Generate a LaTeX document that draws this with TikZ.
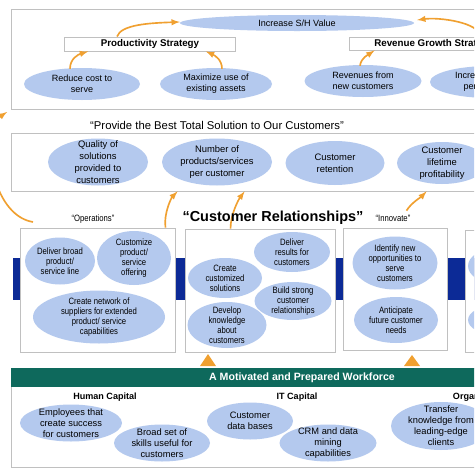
\documentclass[tikz,border=0pt]{standalone}
\usepackage{fontspec}
\setmainfont{Liberation Sans}
\newfontfamily\narrowfont[FakeStretch=0.84]{Liberation Sans}
\usetikzlibrary{shapes}
\usetikzlibrary{arrows}
\usetikzlibrary{calc}

\definecolor{ellblue}{RGB}{180,201,238}
\definecolor{arrorange}{RGB}{240,160,48}
\definecolor{bandblue}{RGB}{12,42,150}
\definecolor{bandteal}{RGB}{14,105,92}
\definecolor{framegray}{RGB}{192,192,192}

\newcommand\fttop{\fontsize{7.7}{9.4}\selectfont}
\newcommand\ftmid{\fontsize{8}{10}\selectfont}
\newcommand\ftnarrow{\narrowfont\fontsize{7.8}{8.6}\selectfont}
\newcommand\ftbot{\fontsize{7.9}{9.4}\selectfont}

\begin{document}
\begin{tikzpicture}[x=0.85pt,y=-0.85pt]
	\tikzstyle{goal}=[ellipse,fill=ellblue,inner sep=-15pt,align=center]
	\tikzstyle{frame}=[rectangle,draw=framegray,line width=0.8pt,fill=white,inner sep=0pt]
	\tikzstyle{stratbox}=[frame,font=\bfseries\fontsize{8.3}{9}\selectfont]
	\tikzstyle{arr}=[draw=arrorange,line width=1.4pt,-latex]
	\tikzstyle{capitallbl}=[font=\bfseries\fontsize{7.7}{9}\selectfont]
	\tikzset{sz/.style 2 args={minimum width=#1*0.85pt,minimum height=#2*0.85pt}}

	\useasboundingbox (0,0) rectangle (474,474);
	\clip (0,0) rectangle (474,474);
	\fill[white] (0,0) rectangle (474,474);

	% strategy level
	\node[frame,sz={479}{100}] (topbox) at (250.5,59) {};
	\node[goal,sz={234}{16},font=\fttop] (shv) at (297,23) {Increase S/H Value};
	\node[stratbox,sz={171}{14}] (prod) at (150,44) {Productivity Strategy};
	\node[stratbox,sz={170}{13}] (rev) at (434,43.5) {Revenue Growth Strategy};
	\node[goal,sz={116}{32},font=\fttop] (cost) at (82,84) {Reduce cost to\\serve};
	\node[goal,sz={112}{32},font=\fttop] (assets) at (216,84) {Maximize use of\\existing assets};
	\node[goal,sz={117}{32},font=\fttop] (newcust) at (363,81) {Revenues from\\new customers};
	\node[goal,sz={120}{32},font=\fttop] (increv) at (490,82) {Increase revenue\\per customer};

	\draw[arr] ($(cost.north)+(-12,1)$) .. controls +(0,-10) and +(-10,3) .. ($(prod.south west)+(24,0)$);
	\draw[arr] ($(assets.north)+(6,1)$) .. controls +(0,-9) and +(9,4) .. ($(prod.south east)+(-30,0)$);
	\draw[arr] ($(prod.north west)+(53,0)$) .. controls +(4,-12) and +(-30,1) .. ($(shv.west)+(0,-1)$);
	\draw[arr] ($(newcust.north)+(-3,1)$) .. controls +(1,-8) and +(-6,4) .. ($(rev.south west)+(26,0)$);
	\draw[arr] ($(rev.north)+(46,0)$) .. controls +(0,-14) and +(22,-3) .. ($(shv.east)+(3,-3)$);

	% customer level
	\node[font=\fontsize{9.6}{11}\selectfont] (motto) at (217,125) {“Provide the Best Total Solution to Our Customers”};
	\node[frame,sz={479}{58}] (box2) at (250.5,162) {};
	\node[goal,sz={100}{47},font=\ftmid] (quality) at (98,162) {Quality of\\solutions\\provided to\\customers};
	\node[goal,sz={110}{47},font=\ftmid] (number) at (217,162) {Number of\\products/services\\per customer};
	\node[goal,sz={99}{44},font=\ftmid] (retention) at (335,163) {Customer\\retention};
	\node[goal,sz={90}{42},font=\ftmid] (lifetime) at (442,163) {Customer\\lifetime\\profitability};

	% process level
	\fill[bandblue] (13,258) rectangle (490,300);
	\node[frame,sz={155}{124}] (ops) at (97.5,290) {};
	\node[frame,sz={150}{123}] (cr) at (260,290.5) {};
	\node[frame,sz={104}{122}] (inn) at (395,289) {};
	\node[frame,sz={60}{122}] (rbox) at (495,291) {};

	\node[font=\ftnarrow] (opslbl) at (93,219) {“Operations”};
	\node[font=\ftnarrow] (innlbl) at (393,218) {“Innovate”};

	\coordinate (opsfrom) at (33,222);
	\coordinate (topin) at (7,112);
	\draw[arr] (opsfrom) .. controls (-10,215) and (-20,130) .. (topin);
	\draw[arr] ($(ops.north east)+(-10,0)$) .. controls +(-2,-14) and +(-6,6) .. ($(box2.south west)+(167,0)$);
	\draw[arr] ($(cr.north west)+(46,0)$) .. controls +(0,-14) and +(-6,8) .. ($(box2.south west)+(234,0)$);
	\draw[arr] ($(innlbl.north east)+(-8,0)$) .. controls +(5,-8) and +(-6,6) .. ($(box2.south west)+(416,0)$);

	\node[font=\bfseries\fontsize{12.3}{14}\selectfont] (crtitle) at (273,218) {“Customer Relationships”};

	\node[goal,sz={70}{47},font=\ftnarrow] (broad) at (60,261) {Deliver broad\\product/\\service line};
	\node[goal,sz={74}{54},font=\ftnarrow] (customize) at (134,258) {Customize\\product/\\service\\offering};
	\node[goal,sz={132}{53},font=\ftnarrow] (network) at (99,317) {Create network of\\suppliers for extended\\product/ service\\capabilities};

	\node[goal,sz={76}{40},font=\ftnarrow] (results) at (292,252) {Deliver\\results for\\customers};
	\node[goal,sz={74}{40},font=\ftnarrow] (solutions) at (225,278) {Create\\customized\\solutions};
	\node[goal,sz={77}{38},font=\ftnarrow] (strong) at (293,301) {Build strong\\customer\\relationships};
	\node[goal,sz={79}{46},font=\ftnarrow] (knowledge) at (227,325) {Develop\\knowledge\\about\\customers};

	\node[goal,sz={85}{53},font=\ftnarrow] (identify) at (395,263) {Identify new\\opportunities to\\serve\\customers};
	\node[goal,sz={84}{46},font=\ftnarrow] (anticipate) at (396,320) {Anticipate\\future customer\\needs};

	\node[goal,sz={60}{36}] (rgoal1) at (498,266) {};
	\node[goal,sz={60}{30}] (rgoal2) at (498,320) {};

	\fill[arrorange] (200,366) -- (216,366) -- (208,354) -- cycle;
	\fill[arrorange] (404,366) -- (420,366) -- (412,355) -- cycle;

	% learning and growth level
	\node[frame,sz={479}{99}] (botbox) at (250.5,417.5) {};
	\fill[bandteal] (11,368) rectangle (490,387);
	\node[text=white,font=\bfseries\fontsize{9}{10}\selectfont] (workforce) at (302,378) {A Motivated and Prepared Workforce};
	\node[capitallbl] (humancap) at (105,397) {Human Capital};
	\node[capitallbl] (itcap) at (297,397) {IT Capital};
	\node[capitallbl] (orgcap) at (497,397) {Organization Capital};

	\node[goal,sz={102}{37},font=\ftbot] (employees) at (71,423) {Employees that\\create success\\for customers};
	\node[goal,sz={96}{37},font=\ftbot] (skills) at (162,443) {Broad set of\\skills useful for\\customers};
	\node[goal,sz={86}{37},font=\ftbot] (databases) at (250,421) {Customer\\data bases};
	\node[goal,sz={97}{37},font=\ftbot] (crm) at (328,443) {CRM and data\\mining\\capabilities};
	\node[goal,sz={100}{48},font=\ftbot] (transfer) at (441,426) {Transfer\\knowledge from\\leading-edge\\clients};
\end{tikzpicture}
\end{document}
